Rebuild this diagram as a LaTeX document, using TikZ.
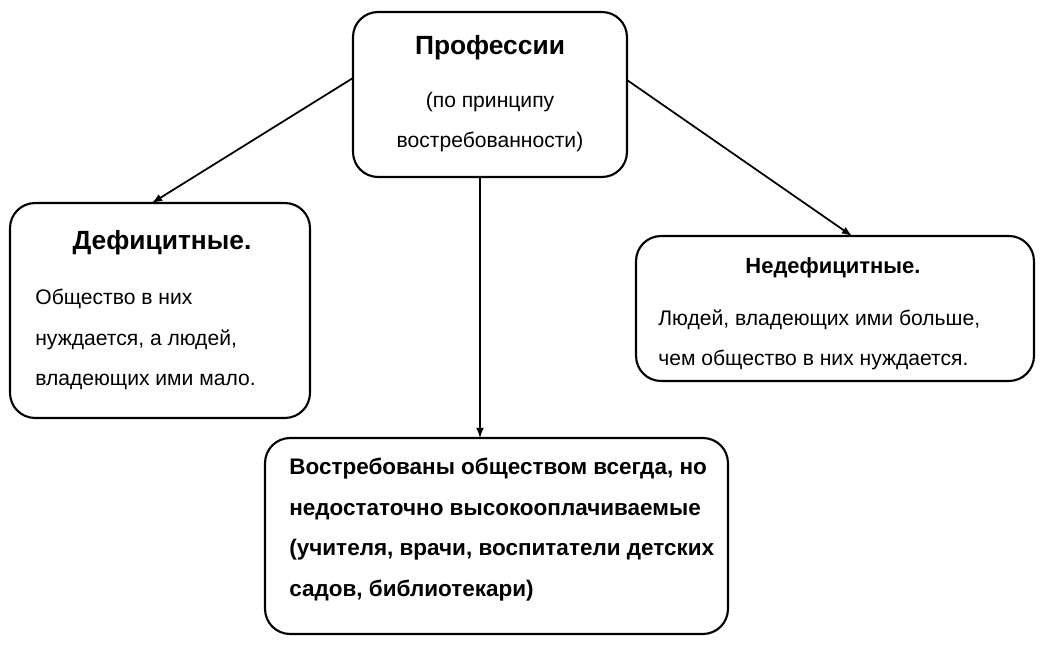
\documentclass[tikz,border=0pt]{standalone}
\usepackage{fontspec}
\setmainfont{Liberation Sans}
\usetikzlibrary{positioning}
\begin{document}
\begin{tikzpicture}[x=0.02cm,y=-0.02cm,
boxnode/.style={rectangle, draw=black, line width=1.2pt, rounded corners=0.5cm, inner sep=0pt},
headnode/.style={font=\fontsize{15}{18}\selectfont\bfseries},
textnode/.style={font=\fontsize{12}{23}\selectfont, align=left, inner sep=0pt},
]
\useasboundingbox (0,0) rectangle (1046,663);
%Boxes
\node[boxnode, minimum width=5.48cm, minimum height=3.3cm]  (prof)  at (490,94.5)  {};
\node[boxnode, minimum width=6cm,    minimum height=4.3cm]  (defic) at (160,310.5) {};
\node[boxnode, minimum width=7.96cm, minimum height=2.9cm]  (nedef) at (835,308.5) {};
\node[boxnode, minimum width=9.26cm, minimum height=3.92cm] (vostr) at (496.5,536) {};
%Texts
\node[headnode] (proft) at (490,48) {Профессии};
\node[textnode, align=center] (profs) at (490,122) {(по принципу\\востребованности)};
\node[headnode] (defict) at (162,243) {Дефицитные.};
\node[headnode, font=\fontsize{12.5}{16}\selectfont\bfseries] (nedeft) at (833,268) {Недефицитные.};
\node[textnode, anchor=north west] (deficb) at (35,289) {Общество в них\\нуждается, а людей,\\владеющих ими мало.};
\node[textnode, anchor=north west] (nedefb) at (658,309) {Людей, владеющих ими больше,\\чем общество в них нуждается.};
\node[textnode, font=\fontsize{12.8}{23}\selectfont\bfseries, anchor=north west] (vostrb) at (289,458)
  {Востребованы обществом всегда, но\\недостаточно высокооплачиваемые\\(учителя, врачи, воспитатели детских\\садов, библиотекари)};
%Lines
\coordinate (pl) at (353,78);
\coordinate (pr) at (627,80);
\coordinate (pb) at (480,177);
\coordinate (dt) at (152,203);
\coordinate (nt) at (852,236);
\coordinate (vt) at (480,438);
\draw[line width=1pt,-latex] (pl) -- (dt);
\draw[line width=1pt,-latex] (pr) -- (nt);
\draw[line width=1pt,-latex] (pb) -- (vt);
\end{tikzpicture}
\end{document}
